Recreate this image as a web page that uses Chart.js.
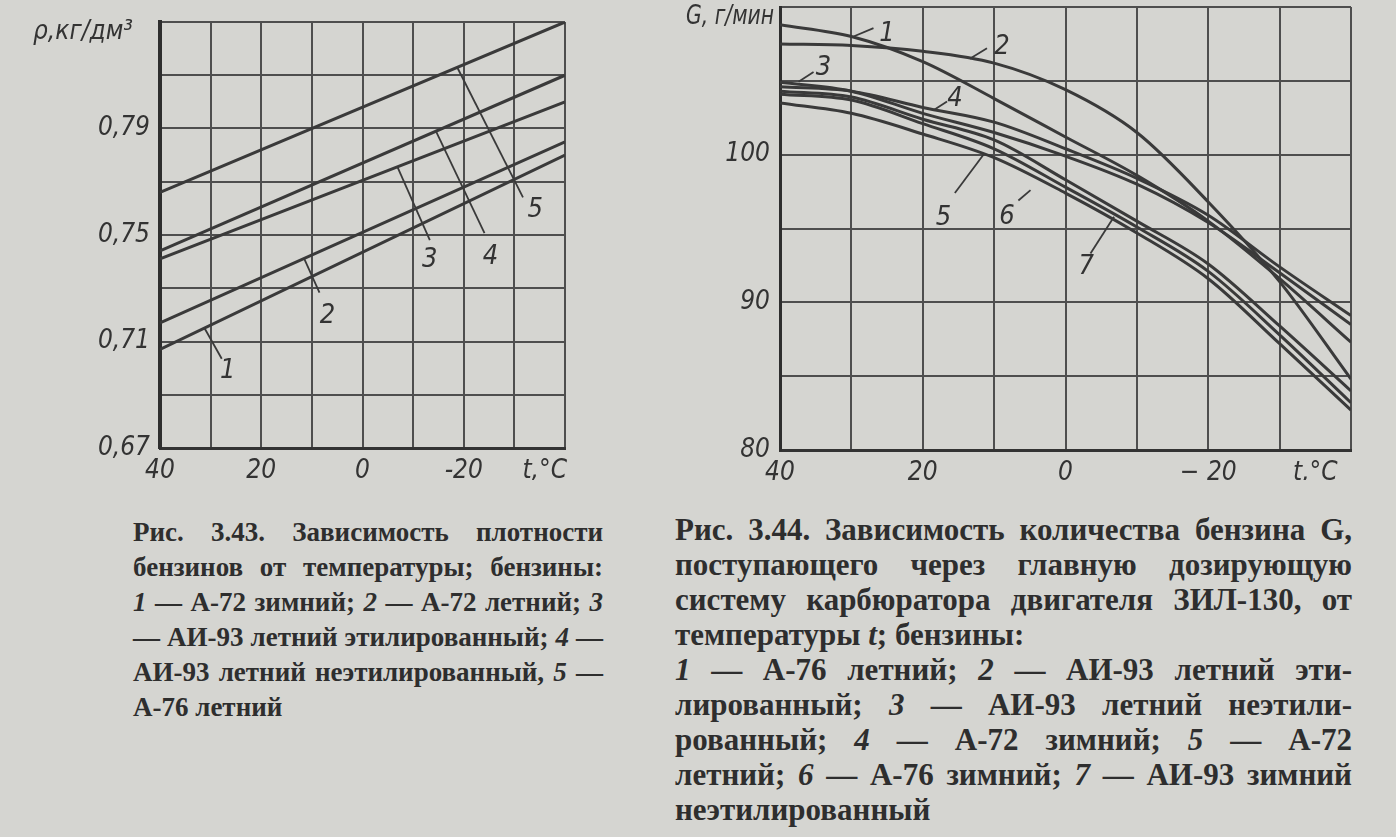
<!DOCTYPE html>
<html lang="ru">
<head>
<meta charset="utf-8">
<title>Рис. 3.43 и 3.44</title>
<script src="https://cdn.jsdelivr.net/npm/chart.js@4.4.0/dist/chart.umd.min.js"></script>
<style>
    html, body {
        margin: 0;
        padding: 0;
        background: #d5d5d1;
    }
    #page {
        position: relative;
        width: 1396px;
        height: 837px;
        overflow: hidden;
        background: #d5d5d1;
    }
    #densityChart {
        position: absolute;
        left: 0;
        top: 0;
    }
    #flowChart {
        position: absolute;
        left: 660px;
        top: 0;
    }
    .caption {
        position: absolute;
        font-family: 'Liberation Serif', 'DejaVu Serif', serif;
        font-size: 27px;
        font-weight: bold;
        color: #2e2e2e;
    }
    .caption div {
        height: 35px;
        line-height: 35px;
        white-space: nowrap;
        text-align: justify;
        text-align-last: justify;
    }
    .caption div.last {
        text-align-last: left;
    }
    #captionLeft {
        left: 133px;
        top: 515px;
        width: 470px;
    }
    #captionRight {
        left: 675px;
        top: 512px;
        width: 677px;
        font-size: 31px;
    }
</style>
</head>
<body>
<div id="page">
    <canvas id="densityChart" width="600" height="480"></canvas>
    <canvas id="flowChart" width="736" height="480"></canvas>

    <div class="caption" id="captionLeft">
        <div>Рис. 3.43. Зависимость плотности</div>
        <div>бензинов от температуры; бензины:</div>
        <div><i>1</i> — А-72 зимний; <i>2</i> — А-72 летний; <i>3</i></div>
        <div>— АИ-93 летний этилированный; <i>4</i> —</div>
        <div>АИ-93 летний неэтилированный, <i>5</i> —</div>
        <div class="last">А-76 летний</div>
    </div>

    <div class="caption" id="captionRight">
        <div>Рис. 3.44. Зависимость количества бензина G,</div>
        <div>поступающего через главную дозирующую</div>
        <div>систему карбюратора двигателя ЗИЛ-130, от</div>
        <div class="last">температуры <i>t</i>; бензины:</div>
        <div><i>1</i> — А-76 летний; <i>2</i> — АИ-93 летний эти-</div>
        <div>лированный; <i>3</i> — АИ-93 летний неэтили-</div>
        <div>рованный; <i>4</i> — А-72 зимний; <i>5</i> — А-72</div>
        <div>летний; <i>6</i> — А-76 зимний; <i>7</i> — АИ-93 зимний</div>
        <div class="last">неэтилированный</div>
    </div>
</div>

<script>
// --- Рис. 3.43: плотность бензинов, кг/дм3 ---
const densityTemps = [40, -40];
const density1 = [0.707, 0.780];   // А-72 зимний
const density2 = [0.717, 0.785];   // А-72 летний
const density3 = [0.741, 0.800];   // АИ-93 летний этилированный
const density4 = [0.744, 0.810];   // АИ-93 летний неэтилированный
const density5 = [0.766, 0.830];   // А-76 летний

const densityGridValues = [0.67, 0.69, 0.71, 0.73, 0.75, 0.77, 0.79, 0.81, 0.83];
const densityTickLabels = ['0,67', '', '0,71', '', '0,75', '', '0,79', '', ''];

// номера кривых: [t, p] для цифры и для выноски
const densityLabelText = ['1', '2', '3', '4', '5'];
const densityLabelAt = [[26.6, 0.699], [6.9, 0.7195], [-13.3, 0.7407], [-25.3, 0.7418], [-34.1, 0.7593]];
const densityLeaderFrom = [[31.2, 0.715], [11.5, 0.741], [-6.9, 0.7756], [-14.5, 0.789], [-18.7, 0.813]];
const densityLeaderTo = [[27.8, 0.7035], [8.5, 0.7284], [-13.3, 0.7481], [-24.1, 0.7507], [-31.7, 0.7641]];

// --- Рис. 3.44: количество бензина G, г/мин ---
const flowTemps = [40, 30, 20, 10, 0, -10, -20, -30, -40];
const flow1 = [108.8, 108.0, 106.3, 103.8, 101.2, 98.6, 95.5, 91.6, 87.3];
const flow2 = [107.5, 107.4, 107.0, 106.2, 104.4, 101.5, 96.8, 91.4, 84.8];
const flow3 = [104.9, 104.3, 102.8, 101.5, 99.9, 98.0, 95.4, 92.0, 88.5];
const flow4 = [104.6, 104.3, 103.2, 102.2, 100.4, 98.4, 95.9, 92.4, 89.1];
const flow5 = [104.3, 103.9, 102.4, 101.0, 98.3, 95.5, 92.6, 88.4, 84.0];
const flow6 = [104.1, 103.7, 102.1, 100.4, 97.8, 95.1, 92.1, 87.8, 83.2];
const flow7 = [103.5, 102.8, 101.4, 99.8, 97.4, 94.7, 91.6, 87.2, 82.7];

const flowTickLabels = { 80: '80', 90: '90', 100: '100' };

const flowLabelText = ['1', '2', '3', '4', '5', '6', '7'];
const flowLabelAt = [[25.0, 108.2], [8.9, 107.3], [33.9, 105.9], [15.5, 103.8], [17.1, 95.7], [8.2, 95.8], [-2.9, 92.4]];
const flowLeaderFrom = [[29.7, 108.0], [13.4, 106.5], [37.4, 104.94], [18.5, 103.0], [11.5, 100.0], [4.9, 97.6], [-6.8, 95.8]];
const flowLeaderTo = [[26.9, 108.57], [11.0, 107.2], [35.3, 105.6], [16.6, 103.6], [15.5, 97.4], [6.6, 96.9], [-3.5, 93.3]];

// подписи оси t
const densityTempLabels = { 40: '40', 20: '20', 0: '0', '-20': '-20' };
const flowTempLabels = { 40: '40', 20: '20', 0: '0', '-20': '\u2212 20' };

const INK = '#3a3a3a';
const GRID = '#4e4e4e';
const FONT_FAMILY = "'Liberation Sans Narrow', 'DejaVu Sans Condensed', 'Liberation Sans', 'DejaVu Sans', sans-serif";

function toPoints(temps, values) {
    return temps.map(function (t, i) {
        return { x: t, y: values[i] };
    });
}

function curve(temps, values) {
    return {
        data: toPoints(temps, values),
        borderColor: INK,
        borderWidth: 3,
        pointRadius: 0,
        fill: false,
        cubicInterpolationMode: 'monotone'
    };
}

// фиксированные размеры осей, без добавочных полей под крайние подписи
function fixWidth(w) {
    return function (scale) {
        scale.width = w;
        scale.paddingTop = 0;
        scale.paddingBottom = 0;
    };
}
function fixHeight(h) {
    return function (scale) {
        scale.height = h;
        scale.paddingLeft = 0;
        scale.paddingRight = 0;
    };
}

// TODO: номера кривых, выноски и подписи осей
const curveLabels = {
    id: 'curveLabels',
    afterDatasetsDraw(chart, args, opts) {
        const ctx = chart.ctx;
        const x = chart.scales.x;
        const y = chart.scales.y;
        const area = chart.chartArea;

        ctx.save();
        ctx.strokeStyle = INK;
        ctx.fillStyle = '#333';
        ctx.lineWidth = 1.8;
        ctx.font = 'italic 27px ' + FONT_FAMILY;
        ctx.textAlign = 'center';
        ctx.textBaseline = 'middle';

        opts.text.forEach(function (txt, i) {
            ctx.beginPath();
            ctx.moveTo(x.getPixelForValue(opts.from[i][0]), y.getPixelForValue(opts.from[i][1]));
            ctx.lineTo(x.getPixelForValue(opts.to[i][0]), y.getPixelForValue(opts.to[i][1]));
            ctx.stroke();
            ctx.fillText(txt, x.getPixelForValue(opts.at[i][0]), y.getPixelForValue(opts.at[i][1]));
        });

        // t,°C справа под осью
        ctx.font = 'italic 26px ' + FONT_FAMILY;
        ctx.fillText('t,°C', x.getPixelForValue(opts.tAt), area.bottom + 23, 46);

        // заголовок оси ординат
        ctx.textAlign = 'left';
        ctx.fillText(opts.yTitle, area.left + opts.yTitleDx, area.top + opts.yTitleDy, opts.yTitleWidth);
        ctx.restore();
    }
};

// TODO: Рис. 3.43
const densityCtx = document.getElementById('densityChart').getContext('2d');
const densityChart = new Chart(densityCtx, {
    type: 'line',
    data: {
        datasets: [
            curve(densityTemps, density1),
            curve(densityTemps, density2),
            curve(densityTemps, density3),
            curve(densityTemps, density4),
            curve(densityTemps, density5)
        ]
    },
    options: {
        responsive: false,
        animation: false,
        layout: {
            padding: { left: 80, right: 35, top: 22, bottom: 0 }
        },
        scales: {
            x: {
                type: 'linear',
                reverse: true,
                min: -40,
                max: 40,
                afterFit: fixHeight(32),
                ticks: {
                    stepSize: 10,
                    padding: 8,
                    color: '#333',
                    maxRotation: 0,
                    autoSkip: false,
                    font: { family: FONT_FAMILY, size: 26, style: 'italic' },
                    callback: function (v) {
                        return densityTempLabels[v] !== undefined ? densityTempLabels[v] : '';
                    }
                },
                grid: { color: GRID, lineWidth: 2, drawTicks: false },
                border: { color: '#333', width: 3 }
            },
            y: {
                type: 'linear',
                min: 0.67,
                max: 0.83,
                afterFit: fixWidth(80),
                afterBuildTicks: function (scale) {
                    scale.ticks = densityGridValues.map(function (v) { return { value: v }; });
                },
                ticks: {
                    padding: 10,
                    color: '#333',
                    font: { family: FONT_FAMILY, size: 26, style: 'italic' },
                    callback: function (v, i) {
                        return densityTickLabels[i];
                    }
                },
                grid: { color: GRID, lineWidth: 2, drawTicks: false },
                border: { color: '#2e2e2e', width: 4 }
            }
        },
        plugins: {
            legend: { display: false },
            tooltip: { enabled: false },
            curveLabels: {
                text: densityLabelText,
                at: densityLabelAt,
                from: densityLeaderFrom,
                to: densityLeaderTo,
                tAt: -36,
                yTitle: 'ρ,кг/дм³',
                yTitleDx: -127,
                yTitleDy: 10,
                yTitleWidth: 110
            }
        }
    },
    plugins: [curveLabels]
});

// TODO: Рис. 3.44
const flowCtx = document.getElementById('flowChart').getContext('2d');
const flowChart = new Chart(flowCtx, {
    type: 'line',
    data: {
        datasets: [
            curve(flowTemps, flow1),
            curve(flowTemps, flow2),
            curve(flowTemps, flow3),
            curve(flowTemps, flow4),
            curve(flowTemps, flow5),
            curve(flowTemps, flow6),
            curve(flowTemps, flow7)
        ]
    },
    options: {
        responsive: false,
        animation: false,
        layout: {
            padding: { left: 50, right: 45, top: 7, bottom: 0 }
        },
        scales: {
            x: {
                type: 'linear',
                reverse: true,
                min: -40,
                max: 40,
                afterFit: fixHeight(30),
                ticks: {
                    stepSize: 10,
                    padding: 8,
                    color: '#333',
                    maxRotation: 0,
                    autoSkip: false,
                    font: { family: FONT_FAMILY, size: 26, style: 'italic' },
                    callback: function (v) {
                        return flowTempLabels[v] !== undefined ? flowTempLabels[v] : '';
                    }
                },
                grid: { color: GRID, lineWidth: 2, drawTicks: false },
                border: { color: '#333', width: 3 }
            },
            y: {
                type: 'linear',
                min: 80,
                max: 110,
                afterFit: fixWidth(70),
                ticks: {
                    stepSize: 5,
                    padding: 10,
                    color: '#333',
                    font: { family: FONT_FAMILY, size: 26, style: 'italic' },
                    callback: function (v) {
                        return flowTickLabels[v] || '';
                    }
                },
                grid: { color: GRID, lineWidth: 2, drawTicks: false },
                border: { color: '#2e2e2e', width: 3 }
            }
        },
        plugins: {
            legend: { display: false },
            tooltip: { enabled: false },
            curveLabels: {
                text: flowLabelText,
                at: flowLabelAt,
                from: flowLeaderFrom,
                to: flowLeaderTo,
                tAt: -35,
                yTitle: 'G, г/мин',
                yTitleDx: -94,
                yTitleDy: 10,
                yTitleWidth: 88
            }
        }
    },
    plugins: [curveLabels]
});
</script>
</body>
</html>
